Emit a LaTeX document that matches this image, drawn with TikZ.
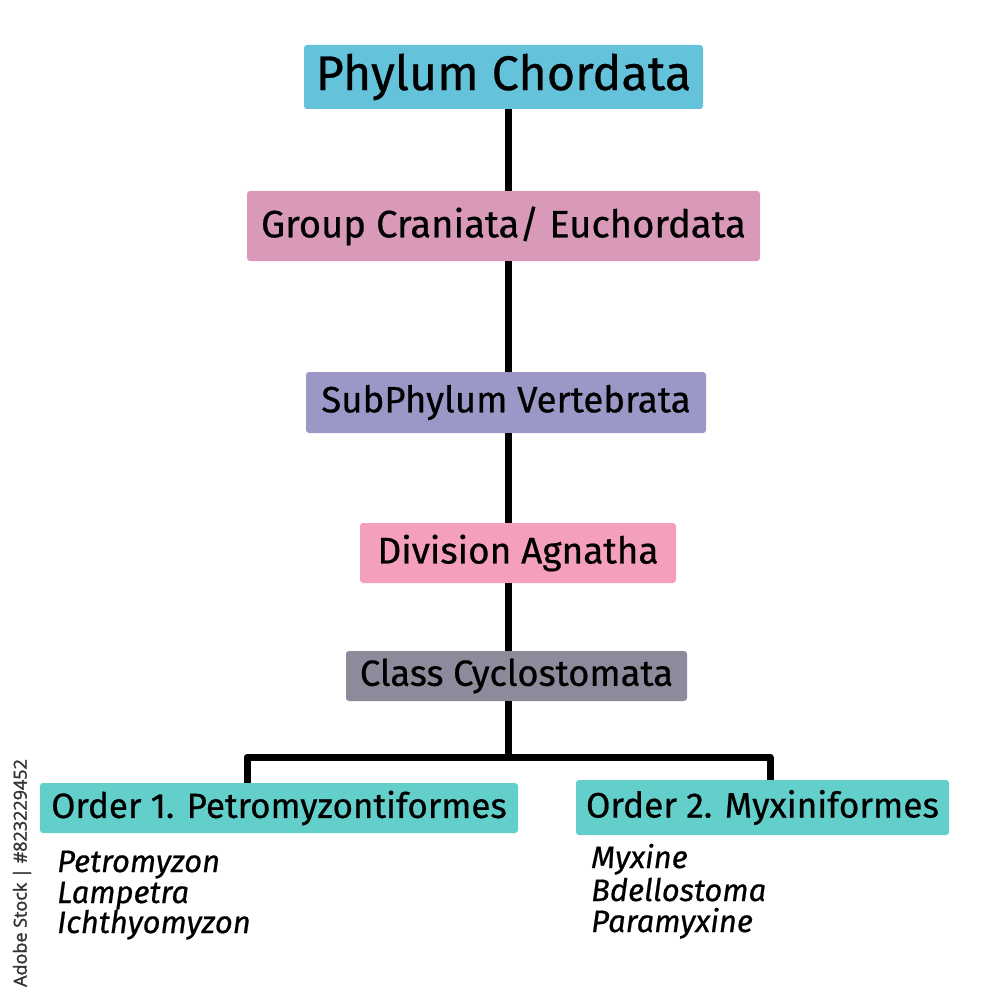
\documentclass[tikz,border=0pt]{standalone}
\usepackage{fontspec}
\setmainfont{Fira Sans}[FakeBold=0.6]
\newfontfamily\sidefont{Open Sans}[FakeBold=1.6]
\definecolor{cphy}{HTML}{64C2DA}
\definecolor{cgrp}{HTML}{D89AB8}
\definecolor{csub}{HTML}{9B97C7}
\definecolor{cdiv}{HTML}{F4A0BA}
\definecolor{ccls}{HTML}{8B8B9B}
\definecolor{cord}{HTML}{63CFCA}
\definecolor{cside}{HTML}{333333}
\begin{document}
\begin{tikzpicture}[x=1pt,y=-1pt,
  taxbox/.style={rectangle, rounded corners=3pt, inner sep=0pt, text=black, anchor=center},
  link/.style={line width=7pt, black, line join=round},
  genus/.style={anchor=base west, inner sep=0pt, font=\itshape\fontsize{31}{33}\selectfont}]
\useasboundingbox[fill=white] (0,0) rectangle (1000,1000);

\node[taxbox, fill=cphy, minimum width=399pt, minimum height=64pt, font=\fontsize{48.5}{50}\selectfont] (phy) at (503.5,77) {Phylum Chordata};
\node[taxbox, fill=cgrp, minimum width=513pt, minimum height=70pt, font=\fontsize{38.2}{40}\selectfont] (grp) at (503.5,226) {Group Craniata/ Euchordata};
\node[taxbox, fill=csub, minimum width=400pt, minimum height=61pt, font=\fontsize{36.6}{38}\selectfont] (sub) at (506,402.5) {SubPhylum Vertebrata};
\node[taxbox, fill=cdiv, minimum width=316pt, minimum height=60pt, font=\fontsize{37}{38}\selectfont] (div) at (518,553) {Division Agnatha};
\node[taxbox, fill=ccls, minimum width=341pt, minimum height=50pt, font=\fontsize{36.4}{38}\selectfont] (cls) at (516.5,676) {Class Cyclostomata};
\node[taxbox, fill=cord, minimum width=478pt, minimum height=50pt, font=\fontsize{35}{38}\selectfont] (o1) at (279,808) {Order 1. Petromyzontiformes};
\node[taxbox, fill=cord, minimum width=373pt, minimum height=55pt, font=\fontsize{35.3}{38}\selectfont] (o2) at (762.5,807.5) {Order 2. Myxiniformes};

\coordinate (bl) at (247,757);
\coordinate (br) at (770,757);
\coordinate (spine) at (508,0);

\draw[link] (spine |- phy.south) -- (spine |- grp.north);
\draw[link] (spine |- grp.south) -- (spine |- sub.north);
\draw[link] (spine |- sub.south) -- (spine |- div.north);
\draw[link] (spine |- div.south) -- (spine |- cls.north);
\draw[link] (spine |- cls.south) -- (spine |- bl);
\draw[link] (bl |- o1.north) -- (bl) -- (br) -- (br |- o2.north);

\node[genus] (g1) at (57,872) {Petromyzon};
\node[genus] (g2) at (57,903) {Lampetra};
\node[genus] (g3) at (57,933) {Ichthyomyzon};
\node[genus] (g4) at (591,868) {Myxine};
\node[genus] (g5) at (591,901) {Bdellostoma};
\node[genus] (g6) at (591,932) {Paramyxine};

\node[rotate=90, text=cside, inner sep=0pt, font=\sidefont\fontsize{18}{20}\selectfont] (side) at (22,873) {Adobe Stock | \#823229452};
\end{tikzpicture}
\end{document}
